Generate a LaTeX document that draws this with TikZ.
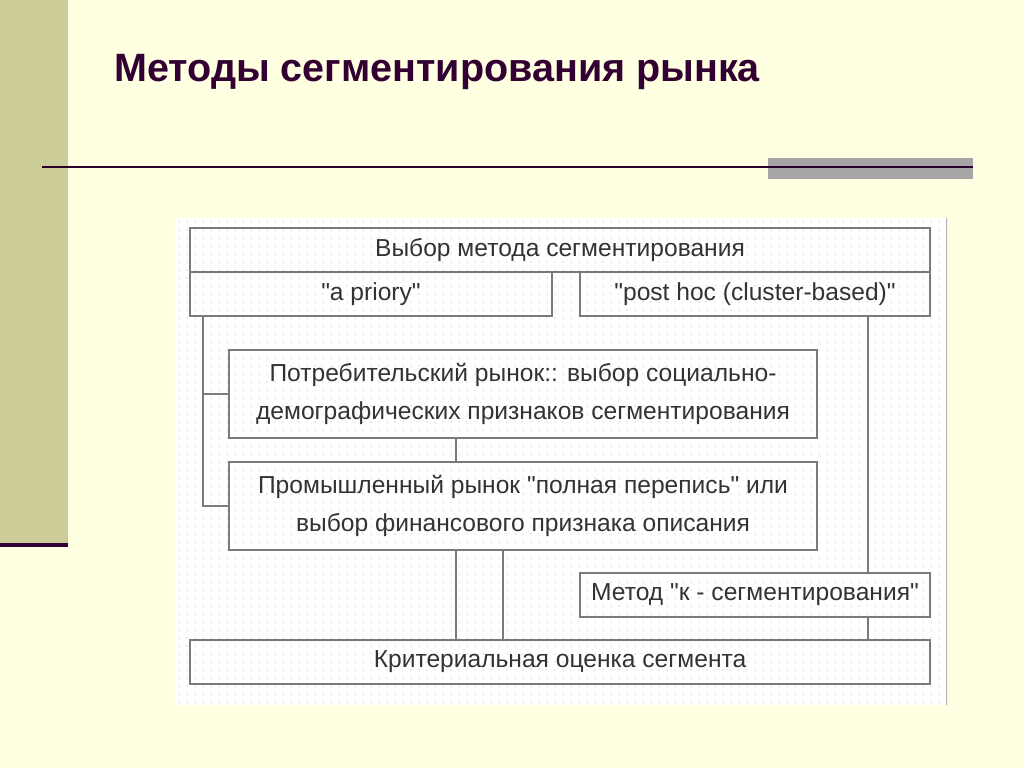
\documentclass[tikz,border=0pt]{standalone}
\usepackage{fontspec}
\newfontfamily\diagfont{Liberation Sans}
\usetikzlibrary{calc}
\definecolor{slidebg}{HTML}{FFFFE1}
\definecolor{stripe}{HTML}{CCCC99}
\definecolor{plum}{HTML}{330033}
\definecolor{boxgray}{HTML}{7A7A7A}
\tikzset{blk/.style={draw=boxgray,line width=1.4pt,minimum height=0.88cm,inner sep=0pt,
  align=center,font=\diagfont\fontsize{14}{22}\selectfont,text=black!80},
  link/.style={draw=boxgray,line width=1.4pt}}
\begin{document}
\begin{tikzpicture}[x=0.02cm,y=-0.02cm]
        \useasboundingbox (0,0) rectangle (1024,768);
        \fill[slidebg] (0,0) rectangle (1024,768);
        \fill[stripe] (0,0) rectangle (68,545);
        \draw[plum,line width=2pt] (0,545) -- (68,545);
        \node[anchor=west,font=\diagfont\bfseries\fontsize{22.5}{26}\selectfont,text=plum] (title) at (108,72) {Методы сегментирования рынка};
        \fill[gray!70] (768,158) rectangle (973,179);
        \draw[plum!80!black,line width=0.9pt] (42,167) -- (973,167);
        % dotted panel
        \fill[white] (175,218) rectangle (946,705);
        \draw[gray!60,line width=0.4pt] (946,218) -- (946,705);
        \foreach \i in {0,...,96} {
          \foreach \j in {0,...,60} {
            \fill[gray!55] (179+8*\i,222+8*\j) circle (0.4pt);
          }
        }
        \node[blk,minimum width=14.8cm] (choice) at (560,250) {Выбор метода сегментирования};
        \node[blk,minimum width=7.24cm] (apriori) at (371,294) {"a priory"};
        \node[blk,minimum width=7.0cm] (posthoc) at (755,294) {"post hoc (cluster-based)"};
        \node[blk,minimum width=11.76cm,minimum height=1.76cm] (consumer) at (523,394) {Потребительский рынок:: выбор социально-\\демографических признаков сегментирования};
        \node[blk,minimum width=11.76cm,minimum height=1.76cm] (industry) at (523,506) {Промышленный рынок "полная перепись" или\\выбор финансового признака описания};
        \node[blk,minimum width=7.0cm] (kmethod) at (755,595) {Метод "к - сегментирования"};
        \node[blk,minimum width=14.8cm] (criteria) at (560,662) {Критериальная оценка сегмента};
        \draw[link] ($(apriori.south west)+(14,0)$) |- (industry.west);
        \draw[link] ($(apriori.south west)+(14,0)$) |- (consumer.west);
        \draw[link] ($(consumer.south)+(-67,0)$) -- ($(industry.north)+(-67,0)$);
        \draw[link] ($(industry.south)+(-67,0)$) -- ($(criteria.north)+(-104,0)$);
        \draw[link] ($(industry.south)+(-20,0)$) -- ($(criteria.north)+(-57,0)$);
        \draw[link] ($(posthoc.south)+(113,0)$) -- ($(kmethod.north)+(113,0)$);
        \draw[link] ($(kmethod.south)+(113,0)$) -- ($(criteria.north)+(308,0)$);
    \end{tikzpicture}
\end{document}
